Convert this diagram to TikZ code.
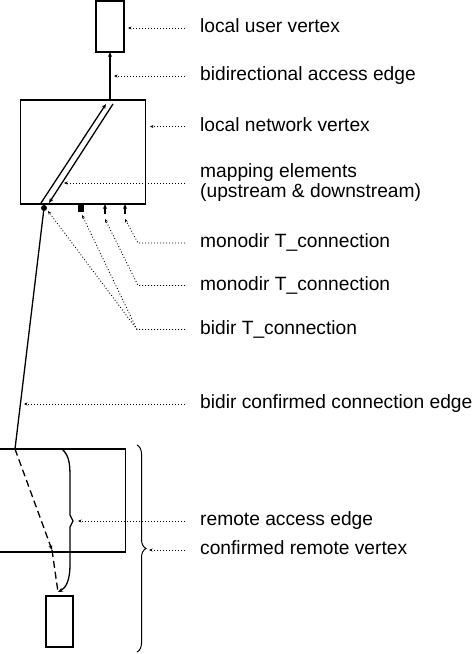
\documentclass[tikz,border=0pt]{standalone}
\usepackage{fontspec}
\setmainfont{Liberation Sans}
\usepackage{tikz}
\usetikzlibrary{arrows.meta,decorations.pathreplacing}

\tikzset{
	vbox/.style={draw, line width=1.4pt, inner sep=0pt, outer sep=0pt},
	edge/.style={line width=1.3pt},
	tip/.style={-{Stealth[length=5pt,width=4pt]}},
	ptr/.style={line width=0.9pt, dash pattern=on 0.9pt off 2.1pt, -{Stealth[length=3.5pt,width=3pt]}},
	lbl/.style={anchor=west, inner xsep=15pt, inner ysep=0pt, font=\fontsize{19.2}{20}\selectfont},
	one/.style={text height=13.5pt, text depth=4pt}
}

\begin{document}
\begin{tikzpicture}[x=1pt, y=-1pt]
	\useasboundingbox (0,0) rectangle (474,654);
	\node[vbox, minimum width=28, minimum height=51] (luser) at (110,26.5) {};
	\node[vbox, minimum width=125, minimum height=104] (lnet) at (83,152) {};
	\node[vbox, minimum width=140, minimum height=103] (rnet) at (55.5,500.5) {};
	\node[vbox, minimum width=27, minimum height=51] (ruser) at (59.5,621.5) {};
	\draw[edge, tip] (luser.south |- lnet.north) -- (luser.south);
	\coordinate (upa) at (41,203);
	\coordinate (upb) at (106,104);
	\coordinate (dna) at (113,104);
	\coordinate (dnb) at (49,203);
	\draw[edge, tip] (upa) -- (upb);
	\draw[edge, tip] (dna) -- (dnb);
	\node[circle, fill, inner sep=0pt, minimum size=6pt] (bdt) at (44,208) {};
	\node[fill, inner sep=0pt, minimum width=6pt, minimum height=7pt] (bde) at (81,208.5) {};
	\coordinate (mo1) at (105,214);
	\coordinate (mo2) at (125,214);
	\draw[edge, tip] (mo1) -- (mo1 |- lnet.south);
	\draw[edge, tip] (mo2) -- (mo2 |- lnet.south);
	\coordinate (rin) at (15,449);
	\coordinate (rmid) at (52,550);
	\coordinate (rend) at (58,592);
	\draw[edge] (bdt) -- (rin);
	\draw[edge, dash pattern=on 7pt off 4pt, tip] (rin) -- (rmid);
	\draw[edge, dash pattern=on 7pt off 4pt] (rmid) -- (rend);
	\coordinate (racc) at (62,449);
	\coordinate (rtip) at (73,521);
	\draw[edge, tip] (racc) .. controls (70,456) and (70,466) .. (70,480) -- (70,515) -- (rtip) -- (70,527) -- (70,565) .. controls (70,580) and (66,588) .. (rend);
	\coordinate (bra) at (137,445);
	\coordinate (brb) at (137,652);
	\draw[decorate, decoration={brace, amplitude=9pt}, line width=1pt] (bra) -- (brb);
	\node[lbl, one] (l1) at (185,28) {local user vertex};
	\node[lbl, one] (l2) at (185,76) {bidirectional access edge};
	\node[lbl, one] (l3) at (185,126.5) {local network vertex};
	\node[lbl, align=left] (l4) at (185,183) {mapping elements\\(upstream \& downstream)};
	\node[lbl, one] (l5) at (185,243) {monodir T\_connection};
	\node[lbl, one] (l6) at (185,285.5) {monodir T\_connection};
	\node[lbl, one] (l7) at (185,329.5) {bidir T\_connection};
	\node[lbl, one] (l8) at (185,404) {bidir confirmed connection edge};
	\node[lbl, one] (l9) at (185,521) {remote access edge};
	\node[lbl, one] (l10) at (185,550) {confirmed remote vertex};
	\coordinate (t1) at (128,28);
	\coordinate (t2) at (114,76);
	\coordinate (t3) at (150,126.5);
	\coordinate (t4) at (64,183);
	\coordinate (e5) at (138,243);
	\coordinate (t5) at (125,219);
	\coordinate (e6) at (138,285.5);
	\coordinate (t6) at (105,219);
	\coordinate (e7) at (137,329.5);
	\coordinate (t7) at (82,215);
	\coordinate (t7b) at (48,211);
	\coordinate (t8) at (24,404);
	\coordinate (t9) at (78,521);
	\coordinate (t10) at (149,550);
	\draw[ptr] (l1.west) -- (t1);
	\draw[ptr] (l2.west) -- (t2);
	\draw[ptr] (l3.west) -- (t3);
	\draw[ptr] (l4.west) -- (t4);
	\draw[ptr] (l5.west) -- (e5) -- (t5);
	\draw[ptr] (l6.west) -- (e6) -- (t6);
	\draw[ptr] (l7.west) -- (e7) -- (t7);
	\draw[ptr] (e7) -- (t7b);
	\draw[ptr] (l8.west) -- (t8);
	\draw[ptr] (l9.west) -- (t9);
	\draw[ptr] (l10.west) -- (t10);
\end{tikzpicture}
\end{document}
